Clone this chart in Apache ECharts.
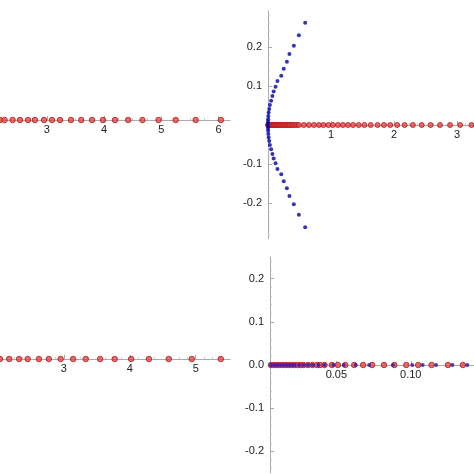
<!DOCTYPE html><html><head><meta charset="utf-8">
<script src="https://cdn.jsdelivr.net/npm/echarts@6/dist/echarts.min.js"></script>
<style>html,body{margin:0;background:#fff}#c{width:474px;height:474px}</style></head><body><div id="c"></div>
<script>
const tlRed=[2.18,2.26,2.40,2.53,2.67,2.79,2.95,3.09,3.23,3.42,3.60,3.79,3.98,4.19,4.42,4.67,4.95,5.25,5.60,6.04];
const trBlueX=[0.59,0.49,0.41,0.34,0.30,0.25,0.21,0.15,0.12,0.09,0.07,0.05,0.03,0.02,0.01,0.005,0.002,0.0,0.0];
const trBlueY=[0.262,0.230,0.203,0.182,0.162,0.144,0.126,0.113,0.098,0.086,0.074,0.062,0.051,0.041,0.032,0.023,0.015,0.009,0.003];
const trRed=[0,0.01,0.02,0.03,0.04,0.05,0.06,0.08,0.09,0.10,0.12,0.13,0.15,0.16,0.18,0.19,0.21,0.23,0.25,0.27,0.29,0.31,0.33,0.35,0.38,0.40,0.43,0.46,0.49,0.57,0.65,0.73,0.81,0.88,0.96,1.03,1.11,1.19,1.27,1.35,1.44,1.53,1.63,1.74,1.84,1.94,2.05,2.17,2.30,2.44,2.58,2.73,2.89,3.05,3.23];
const blRed=[2.03,2.17,2.32,2.45,2.62,2.77,2.95,3.14,3.33,3.55,3.77,4.02,4.29,4.59,4.94,5.38];
const brRed=[0.006,0.008,0.010,0.012,0.014,0.016,0.018,0.020,0.022,0.024,0.026,0.028,0.031,0.034,0.037,0.039,0.042,0.047,0.051,0.056,0.062,0.068,0.074,0.082,0.089,0.097,0.105,0.114,0.125,0.135];
const brBlue=[0.006,0.008,0.010,0.012,0.014,0.016,0.018,0.020,0.022,0.025,0.028,0.031,0.034,0.038,0.042,0.048,0.055,0.063,0.072,0.088,0.101,0.108,0.117,0.128,0.138];
const tlTicks=[3,4,5,6], trXTicks=[1,2,3], blTicks=[3,4,5], brXTicks=[0.05,0.10,0.15];
const yTicksA=[-0.2,-0.1,0.1,0.2], yTicksB=[-0.2,-0.1,0,0.1,0.2];

const lab={fontSize:11,color:'#222',fontFamily:'Liberation Sans'};
const line={lineStyle:{color:'#aaa'}};
function xa(i,min,max,ticks,off,fmt){return {gridIndex:i,type:'value',min,max,offset:off,axisLine:{onZero:false,...line},
 axisTick:{customValues:ticks,length:4,inside:true,lineStyle:{color:'#aaa'}},minorTick:{show:true,splitNumber:4,length:2,lineStyle:{color:'#ccc'}},
 axisLabel:{...lab,customValues:ticks,formatter:fmt||(v=>String(v)),margin:4},splitLine:{show:false}};}
function ya(i,min,max,ticks,show,fmt){return {gridIndex:i,type:'value',min,max,show,axisLine:{show,onZero:false,...line},
 axisTick:{show,customValues:ticks,length:4,inside:true,lineStyle:{color:'#aaa'}},minorTick:{show,splitNumber:5,length:2,lineStyle:{color:'#ccc'}},
 axisLabel:{show,...lab,customValues:ticks,formatter:fmt,margin:6},splitLine:{show:false}};}
const red={type:'scatter',symbol:'circle',symbolSize:5.5,itemStyle:{color:'#e84848',borderColor:'#b01818',borderWidth:1},z:3};
const blue={type:'scatter',symbol:'circle',symbolSize:4,itemStyle:{color:'#0000a8'},z:4};
const trBlue=trBlueX.map((x,i)=>[x,trBlueY[i]]).concat(trBlueX.map((x,i)=>[x,-trBlueY[i]]));
const opt={animation:false,
grid:[{left:0,top:22,width:230,height:196},{left:268,top:11,width:206,height:228},{left:0,top:259,width:230,height:200},{left:270,top:257,width:204,height:216}],
xAxis:[xa(0,2.18,6.2,tlTicks,-98),xa(1,0,3.27,trXTicks,-114),xa(2,2.03,5.52,blTicks,-100),xa(3,0.0054,0.1425,brXTicks,-108,v=>v.toFixed(2))],
yAxis:[ya(0,-0.25,0.25,[],false),ya(1,-0.292,0.292,yTicksA,true,v=>String(+v.toFixed(1))),ya(2,-0.25,0.25,[],false),ya(3,-0.25,0.25,yTicksB,true,v=>v.toFixed(1))],
series:[
 {...red,xAxisIndex:0,yAxisIndex:0,data:tlRed.map(x=>[x,0])},
 {...blue,xAxisIndex:1,yAxisIndex:1,data:trBlue},
 {...red,xAxisIndex:1,yAxisIndex:1,symbolSize:5,data:trRed.map(x=>[x,0])},
 {...red,xAxisIndex:2,yAxisIndex:2,data:blRed.map(x=>[x,0])},
 {...red,xAxisIndex:3,yAxisIndex:3,data:brRed.map(x=>[x,0])},
 {...blue,xAxisIndex:3,yAxisIndex:3,itemStyle:{color:'#3020b0',opacity:0.85},data:brBlue.map(x=>[x,0])}
]};
echarts.init(document.getElementById('c')).setOption(opt);
</script></body></html>
